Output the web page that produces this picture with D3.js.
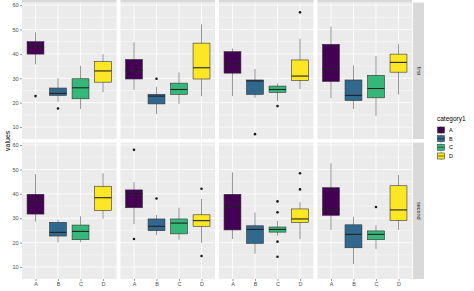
<!DOCTYPE html>
<html>
<head>
<meta charset="utf-8">
<script src="https://cdn.jsdelivr.net/npm/d3@7"></script>
<style>
  body { margin: 0; background: #fff; }
  text { font-family: "Liberation Sans", Arial, sans-serif; }
</style>
</head>
<body>
<div id="chart"></div>
<script>
// boxplot stats: [lower whisker, q1, median, q3, upper whisker]
const categories = ["A", "B", "C", "D"];
const rowLabels = ["first", "second"];
const colLabels = ["1", "2", "3", "4"];
const colors = ["#440154", "#31688E", "#35B779", "#FDE725"];

const firstStats = [
  [[35.7, 39.9, 42.7, 45.0, 48.8], [20.4, 23.0, 23.8, 26.0, 30.0], [17.4, 21.6, 26.1, 29.8, 35.1], [24.3, 28.4, 33.0, 36.8, 39.8]],
  [[25.2, 29.7, 33.2, 37.7, 44.7], [15.4, 19.5, 22.7, 23.4, 26.5], [19.5, 23.4, 25.4, 28.0, 32.4], [22.7, 29.7, 34.3, 44.4, 52.1]],
  [[22.7, 32.1, 35.8, 40.9, 42.2], [22.0, 23.4, 28.9, 29.3, 33.8], [20.7, 24.2, 25.4, 26.8, 27.9], [25.6, 29.1, 30.9, 37.5, 46.2]],
  [[21.8, 28.7, 34.0, 43.9, 51.1], [17.4, 20.9, 23.0, 29.3, 35.3], [14.6, 22.0, 25.8, 31.2, 39.1], [23.4, 32.5, 36.5, 39.9, 44.0]]
];
const firstOutliers = [
  [[22.7], [17.6], [], []],
  [[], [29.8], [], []],
  [[], [7.1], [18.6], [57.0]],
  [[], [], [], []]
];
const secondStats = [
  [[28.6, 31.7, 37.2, 39.8, 48.1], [20.1, 22.7, 24.2, 28.3, 29.3], [20.2, 21.2, 24.6, 27.2, 30.8], [29.8, 33.1, 38.4, 43.1, 48.4]],
  [[27.6, 34.3, 40.0, 41.6, 44.8], [23.1, 24.9, 26.7, 29.7, 31.3], [21.2, 23.6, 28.0, 29.7, 34.3], [19.9, 26.7, 29.0, 31.4, 37.9]],
  [[21.5, 25.2, 34.7, 39.8, 48.8], [15.4, 19.7, 25.4, 26.9, 32.3], [22.8, 24.3, 25.4, 26.4, 28.9], [21.4, 28.2, 29.7, 33.8, 36.6]],
  [[25.2, 31.2, 33.6, 42.5, 52.5], [11.2, 17.9, 23.4, 27.3, 30.6], [17.4, 21.2, 23.4, 24.8, 27.1], [25.2, 29.1, 33.4, 43.3, 47.7]]
];
const secondOutliers = [
  [[], [], [], []],
  [[58.0, 21.5], [38.1], [], [42.1, 14.5]],
  [[], [], [36.9, 32.4, 20.4, 14.2], [48.4, 41.8]],
  [[], [], [34.6], []]
];
const yTicks = [10, 20, 30, 40, 50, 60];

const width = 474, height = 291;
const svg = d3.select("#chart").append("svg")
    .attr("width", width)
    .attr("height", height);

const stats = [firstStats, secondStats];
const outliers = [firstOutliers, secondOutliers];

let colScale = d3.scaleBand().domain(colLabels).range([22, 412]).paddingInner(0.04);
let rowScale = d3.scaleBand().domain(rowLabels).range([2.6, 279]).paddingInner(0.025);
let catScale = d3.scalePoint().domain(categories).range([0, colScale.bandwidth()]).padding(0.6);
let boxW = catScale.step() * 0.75;

// top strip (cut off)
colLabels.forEach(c => {
  svg.append("rect")
     .attr("x", colScale(c)).attr("y", 0)
     .attr("width", colScale.bandwidth()).attr("height", 2.6)
     .attr("fill", "#D9D9D9");
});

rowLabels.forEach((r, ri) => {
  let yScale = d3.scaleLinear()
      .domain([5.1, 61])
      .range([rowScale(r) + rowScale.bandwidth(), rowScale(r)]);

  // y axis for the row
  let yAxis = d3.axisLeft(yScale).tickValues(yTicks).tickSize(2).tickPadding(1.5);
  let ga = svg.append("g")
      .attr("transform", "translate(" + colScale(colLabels[0]) + ",0)")
      .call(yAxis);
  ga.select(".domain").remove();
  ga.selectAll("line").attr("stroke", "#333").attr("stroke-width", 0.5);
  ga.selectAll("text").attr("fill", "#4D4D4D").style("font-size", "5.5px");

  colLabels.forEach((c, ci) => {
    let x0 = colScale(c);
    let g = svg.append("g").attr("transform", "translate(" + x0 + ",0)");
    g.append("rect")
      .attr("x", 0).attr("y", rowScale(r))
      .attr("width", colScale.bandwidth()).attr("height", rowScale.bandwidth())
      .attr("fill", "#EBEBEB");

    // minor grid
    d3.range(5, 61, 10).forEach(v => {
      g.append("line")
        .attr("x1", 0).attr("x2", colScale.bandwidth())
        .attr("y1", yScale(v)).attr("y2", yScale(v))
        .attr("stroke", "#fff").attr("stroke-width", 0.4);
    });
    yTicks.forEach(v => {
      g.append("line")
        .attr("x1", 0).attr("x2", colScale.bandwidth())
        .attr("y1", yScale(v)).attr("y2", yScale(v))
        .attr("stroke", "#fff").attr("stroke-width", 0.8);
    });
    categories.forEach(k => {
      g.append("line")
        .attr("x1", catScale(k)).attr("x2", catScale(k))
        .attr("y1", rowScale(r)).attr("y2", rowScale(r) + rowScale.bandwidth())
        .attr("stroke", "#fff").attr("stroke-width", 0.8);
    });

    // boxes
    categories.forEach((k, ki) => {
      let s = stats[ri][ci][ki];
      let cx = catScale(k);
      g.append("line")
        .attr("x1", cx).attr("x2", cx)
        .attr("y1", yScale(s[4])).attr("y2", yScale(s[0]))
        .attr("stroke", "#555").attr("stroke-width", 0.6);
      g.append("rect")
        .attr("x", cx - boxW / 2).attr("y", yScale(s[3]))
        .attr("width", boxW).attr("height", yScale(s[1]) - yScale(s[3]))
        .attr("fill", colors[ki])
        .attr("stroke", "#333").attr("stroke-width", 0.6);
      g.append("line")
        .attr("x1", cx - boxW / 2).attr("x2", cx + boxW / 2)
        .attr("y1", yScale(s[2])).attr("y2", yScale(s[2]))
        .attr("stroke", "#222").attr("stroke-width", 1.1);
      outliers[ri][ci][ki].forEach(o => {
        g.append("circle")
          .attr("cx", cx).attr("cy", yScale(o)).attr("r", 1.3)
          .attr("fill", "#1a1a1a");
      });
    });

    // x axis on bottom row
    if (ri === rowLabels.length - 1) {
      let xAxis = d3.axisBottom(catScale).tickSize(2).tickPadding(1.5);
      let gx = svg.append("g")
          .attr("transform", "translate(" + x0 + "," + (rowScale(r) + rowScale.bandwidth()) + ")")
          .call(xAxis);
      gx.select(".domain").remove();
      gx.selectAll("line").attr("stroke", "#333").attr("stroke-width", 0.5);
      gx.selectAll("text").attr("fill", "#4D4D4D").style("font-size", "5.5px");
    }
  });

  // right strip
  let sx = colScale(colLabels[3]) + colScale.bandwidth() + 1;
  svg.append("rect")
     .attr("x", sx).attr("y", rowScale(r))
     .attr("width", 11).attr("height", rowScale.bandwidth())
     .attr("fill", "#D9D9D9");
  svg.append("text")
     .attr("transform", "translate(" + (sx + 5.5) + "," + (rowScale(r) + rowScale.bandwidth() / 2) + ") rotate(90)")
     .attr("text-anchor", "middle").attr("dy", "0.35em")
     .attr("fill", "#1A1A1A").style("font-size", "5.5px")
     .text(r);
});

// y label
svg.append("text")
   .attr("transform", "translate(8," + (rowScale.range()[0] + rowScale.range()[1]) / 2 + ") rotate(-90)")
   .attr("text-anchor", "middle").attr("dy", "0.35em")
   .style("font-size", "7px").attr("fill", "#000")
   .text("values");

// legend
let lg = svg.append("g").attr("transform", "translate(437,0)");
lg.append("text").attr("x", 0).attr("y", 121).style("font-size", "6.5px").attr("fill", "#000").text("category1");
let legY = d3.scalePoint().domain(categories).range([130, 156]);
categories.forEach((k, ki) => {
  lg.append("rect").attr("x", 0).attr("y", legY(k) - 4).attr("width", 8).attr("height", 8).attr("fill", "#F2F2F2");
  lg.append("line").attr("x1", 4).attr("x2", 4).attr("y1", legY(k) - 4).attr("y2", legY(k) + 4)
    .attr("stroke", "#555").attr("stroke-width", 0.5);
  lg.append("rect").attr("x", 0.5).attr("y", legY(k) - 3).attr("width", 7).attr("height", 6)
    .attr("fill", colors[ki]).attr("stroke", "#333").attr("stroke-width", 0.5);
  lg.append("line").attr("x1", 0.5).attr("x2", 7.5).attr("y1", legY(k)).attr("y2", legY(k))
    .attr("stroke", "#222").attr("stroke-width", 0.6);
  lg.append("text").attr("x", 12).attr("y", legY(k)).attr("dy", "0.35em")
    .style("font-size", "5.5px").attr("fill", "#000").text(k);
});
</script>
</body>
</html>
